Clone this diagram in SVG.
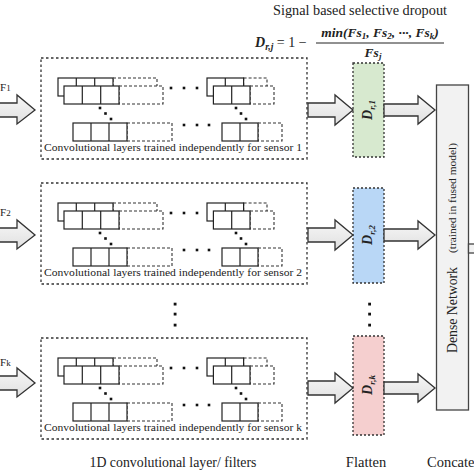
<svg xmlns="http://www.w3.org/2000/svg" xmlns:xlink="http://www.w3.org/1999/xlink" width="474" height="474" viewBox="0 0 474 474">
<style>
text{font-family:"Liberation Serif","Times New Roman","DejaVu Serif",serif;fill:#222}
.panel{fill:none;stroke:#333;stroke-width:1.3;stroke-dasharray:2.5,2.5}
.cell{fill:#fff;stroke:#222;stroke-width:1.2}
.dcell{fill:#fff;stroke:#333;stroke-width:1.1;stroke-dasharray:3,2}
.div{stroke:#222;stroke-width:1.2}
.dot{fill:#111}
.arrow{fill:url(#ag);stroke:#333;stroke-width:1.3;stroke-linejoin:miter}
.flat{stroke:#333;stroke-width:1.3;stroke-dasharray:2,2}
.math{font-style:italic;font-weight:bold}
.cap{font-size:10.5px}
.lbl{font-size:14px}
</style>
<defs>
<linearGradient id="ag" x1="0" y1="0" x2="0" y2="1">
<stop offset="0" stop-color="#f7f7f7"/>
<stop offset="1" stop-color="#e0e0e0"/>
</linearGradient>
<path id="arrL" d="M-3,103 H17 V95 L35,110 L17,124 V117 H-3 Z"/>
<path id="arrM" d="M308,103 H335 V95 L353,110 L335,125 V117 H308 Z"/>
<path id="arrR" d="M384,104 H418 V96 L435,110 L418,124 V116 H384 Z"/>
<g id="conv">
<rect class="dcell" x="113" y="78" width="44" height="18"/>
<rect class="cell" x="58" y="78" width="55" height="18"/>
<line class="div" x1="76.3" y1="78" x2="76.3" y2="96"/>
<line class="div" x1="94.7" y1="78" x2="94.7" y2="96"/>
<rect class="dcell" x="119" y="86" width="44" height="18"/>
<rect class="cell" x="64" y="86" width="55" height="18"/>
<line class="div" x1="82.3" y1="86" x2="82.3" y2="104"/>
<line class="div" x1="100.7" y1="86" x2="100.7" y2="104"/>
<rect class="dot" x="98.7" y="106.7" width="2.6" height="2.6"/>
<rect class="dot" x="104.2" y="112.2" width="2.6" height="2.6"/>
<rect class="dot" x="109.7" y="117.7" width="2.6" height="2.6"/>
<rect class="dcell" x="127" y="123" width="45" height="18"/>
<rect class="cell" x="73" y="123" width="54" height="18"/>
<line class="div" x1="91" y1="123" x2="91" y2="141"/>
<line class="div" x1="109" y1="123" x2="109" y2="141"/>
<rect class="dot" x="169.7" y="86.7" width="2.6" height="2.6"/>
<rect class="dot" x="182.7" y="86.7" width="2.6" height="2.6"/>
<rect class="dot" x="195.7" y="86.7" width="2.6" height="2.6"/>
<rect class="dot" x="182.7" y="123.7" width="2.6" height="2.6"/>
<rect class="dot" x="195.7" y="123.7" width="2.6" height="2.6"/>
<rect class="dot" x="207.7" y="123.7" width="2.6" height="2.6"/>
<rect class="dcell" x="243.6" y="78" width="23.4" height="18"/>
<rect class="cell" x="207" y="78" width="36.6" height="18"/>
<line class="div" x1="225.3" y1="78" x2="225.3" y2="96"/>
<rect class="dcell" x="250" y="86" width="24" height="18"/>
<rect class="cell" x="213.4" y="86" width="36.6" height="18"/>
<line class="div" x1="231.7" y1="86" x2="231.7" y2="104"/>
<rect class="dot" x="234.7" y="106.7" width="2.6" height="2.6"/>
<rect class="dot" x="239.7" y="112.2" width="2.6" height="2.6"/>
<rect class="dot" x="244.7" y="117.7" width="2.6" height="2.6"/>
<rect class="dcell" x="258" y="123" width="24" height="18"/>
<rect class="cell" x="222" y="123" width="36" height="18"/>
<line class="div" x1="240" y1="123" x2="240" y2="141"/>
</g>
</defs>

<rect width="474" height="474" fill="#fff"/>

<g id="title">
<text class="lbl" x="360" y="15" text-anchor="middle" textLength="174" lengthAdjust="spacingAndGlyphs">Signal based selective dropout</text>
</g>
<g id="formula" class="math">
<text x="255" y="47" font-size="14">D<tspan font-size="9.5" dy="3">r,j</tspan><tspan dy="-3" font-style="normal" font-weight="normal" font-size="14"> = 1 −</tspan></text>
<text x="380" y="37" font-size="13.5" text-anchor="middle">min(Fs<tspan font-size="9" dy="2">1</tspan><tspan dy="-2">, Fs</tspan><tspan font-size="9" dy="2">2</tspan><tspan dy="-2">, ···, Fs</tspan><tspan font-size="9" dy="2">k</tspan><tspan dy="-2">)</tspan></text>
<line x1="316" y1="43" x2="444" y2="43" stroke="#222" stroke-width="1"/>
<text x="373" y="57" font-size="13.5" text-anchor="middle">Fs<tspan font-size="9" dy="2">j</tspan></text>
</g>

<g id="inputs">
<text x="0" y="91" font-size="11">F<tspan font-size="9">1</tspan></text>
<text x="0" y="216" font-size="11">F<tspan font-size="9">2</tspan></text>
<text x="0" y="366" font-size="11">F<tspan font-size="9">k</tspan></text>
</g>

<g id="panel1">
<rect class="panel" x="41" y="58" width="266" height="101"/>
<use xlink:href="#conv"/>
<text class="cap" x="44" y="151" textLength="258" lengthAdjust="spacingAndGlyphs">Convolutional layers trained independently for sensor 1</text>
</g>
<g id="panel2">
<rect class="panel" x="41" y="183" width="266" height="101"/>
<use xlink:href="#conv" y="125"/>
<text class="cap" x="44" y="276" textLength="258" lengthAdjust="spacingAndGlyphs">Convolutional layers trained independently for sensor 2</text>
</g>
<g id="panel3">
<rect class="panel" x="41" y="338" width="266" height="101"/>
<use xlink:href="#conv" y="280"/>
<text class="cap" x="44" y="431" textLength="258" lengthAdjust="spacingAndGlyphs">Convolutional layers trained independently for sensor k</text>
</g>

<g id="dots">
<rect class="dot" x="173.7" y="302.7" width="2.8" height="2.8"/>
<rect class="dot" x="173.7" y="312.7" width="2.8" height="2.8"/>
<rect class="dot" x="173.7" y="323.7" width="2.8" height="2.8"/>
<rect class="dot" x="368.2" y="302.7" width="2.8" height="2.8"/>
<rect class="dot" x="368.2" y="312.7" width="2.8" height="2.8"/>
<rect class="dot" x="368.2" y="323.7" width="2.8" height="2.8"/>
</g>

<g id="flatten1">
<rect class="flat" x="353" y="63" width="31" height="94" fill="#d7e9cf"/>
<text class="math" font-size="14" transform="translate(372,110) rotate(-90)" text-anchor="middle">D<tspan font-size="9" dy="3">r,1</tspan></text>
</g>
<g id="flatten2">
<rect class="flat" x="353" y="188" width="31" height="95" fill="#b9d7f6"/>
<text class="math" font-size="14" transform="translate(372,235) rotate(-90)" text-anchor="middle" fill="#1f3a80">D<tspan font-size="9" dy="3">r,2</tspan></text>
</g>
<g id="flatten3">
<rect class="flat" x="353" y="336" width="31" height="99" fill="#f5cfcf"/>
<text class="math" font-size="14" transform="translate(372,385) rotate(-90)" text-anchor="middle">D<tspan font-size="9" dy="3">r,k</tspan></text>
</g>

<g id="dense">
<rect x="436.5" y="85" width="32" height="325" fill="#f2f2f2" stroke="#444" stroke-width="1.3"/>
<text font-size="15" transform="translate(457,353) rotate(-90)" textLength="86" lengthAdjust="spacingAndGlyphs">Dense Network</text>
<text font-size="11" transform="translate(456,253) rotate(-90)" textLength="110" lengthAdjust="spacingAndGlyphs">(trained in fused model)</text>
<rect x="468.5" y="244" width="10" height="9" fill="#f2f2f2" stroke="#444" stroke-width="1.3"/>
</g>

<g id="connectors">
<use class="arrow" xlink:href="#arrL"/>
<use class="arrow" xlink:href="#arrL" y="125"/>
<use class="arrow" xlink:href="#arrL" y="273"/>
<use class="arrow" xlink:href="#arrM"/>
<use class="arrow" xlink:href="#arrM" y="125"/>
<use class="arrow" xlink:href="#arrM" y="278"/>
<use class="arrow" xlink:href="#arrR"/>
<use class="arrow" xlink:href="#arrR" y="125"/>
<use class="arrow" xlink:href="#arrR" y="278"/>
</g>

<g id="footer">
<text x="173" y="467" text-anchor="middle" font-size="14.5" textLength="167" lengthAdjust="spacingAndGlyphs">1D convolutional layer/ filters</text>
<text x="366" y="467" text-anchor="middle" font-size="14.5">Flatten</text>
<text x="427" y="467" font-size="14.5">Concate</text>
</g>
</svg>
